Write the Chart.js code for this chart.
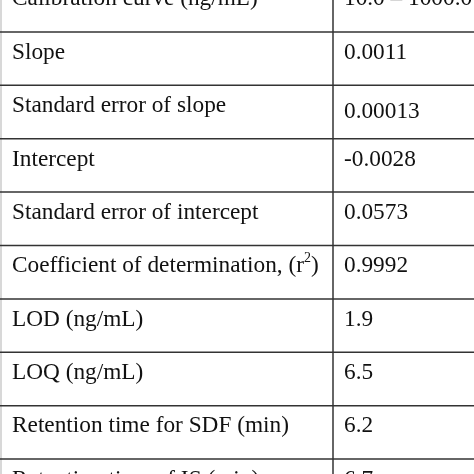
<!DOCTYPE html>
<html>
<head>
<meta charset="utf-8">
<script src="https://cdn.jsdelivr.net/npm/chart.js@4"></script>
<style>
  html, body { margin: 0; padding: 0; background: #fff; }
  #wrap { width: 474px; height: 474px; }
</style>
</head>
<body>
<div id="wrap"><canvas id="chart"></canvas></div>
<script>
const parameters = [
    'Calibration curve (ng/mL)',
    'Slope',
    'Standard error of slope',
    'Intercept',
    'Standard error of intercept',
    'Coefficient of determination, (r^2)',
    'LOD (ng/mL)',
    'LOQ (ng/mL)',
    'Retention time for SDF (min)',
    'Retention time of IS (min)'
];
const values = ['10.0 \u2013 1000.0', '0.0011', '0.00013', '-0.0028', '0.0573',
    '0.9992', '1.9', '6.5', '6.2', '6.7'];
// row index of each cell (centre of a table row)
const rows = parameters.map((p, i) => i);

const font = '23.3px "Liberation Serif", "Times New Roman", serif';

const tablePlugin = {
    id: 'table',
    afterDraw(chart) {
        const ctx = chart.ctx;
        const x = chart.scales.x, y = chart.scales.y;
        const colX = x.getPixelForValue(333);
        ctx.save();
        // left border
        ctx.fillStyle = '#d8d8d8';
        ctx.fillRect(0, 0, 2, 474);
        ctx.strokeStyle = '#333';
        ctx.lineWidth = 1.5;
        // row borders
        for (let i = 0; i < rows.length - 1; i++) {
            const py = y.getPixelForValue(rows[i] + 0.5);
            ctx.beginPath(); ctx.moveTo(0, py); ctx.lineTo(474, py); ctx.stroke();
        }
        ctx.beginPath(); ctx.moveTo(colX, 0); ctx.lineTo(colX, 474); ctx.stroke();

        ctx.fillStyle = '#111';
        ctx.font = font;
        ctx.textBaseline = 'middle';
        const lx = x.getPixelForValue(12), vx = x.getPixelForValue(344);
        rows.forEach((r, i) => {
            const py = y.getPixelForValue(r) - 6;
            const label = parameters[i];
            if (label.includes('^2')) {
                const [a, b] = label.split('^2');
                ctx.fillText(a, lx, py);
                let w = ctx.measureText(a).width;
                ctx.font = '14px "Liberation Serif", serif';
                ctx.fillText('2', lx + w, py - 8);
                const w2 = ctx.measureText('2').width;
                ctx.font = font;
                ctx.fillText(b, lx + w + w2, py);
            } else {
                ctx.fillText(label, lx, py);
            }
            const vy = i === 2 ? py + 6 : py;
            ctx.fillText(values[i], vx, vy);
        });
        ctx.restore();
    }
};

new Chart(document.getElementById('chart').getContext('2d'), {
    type: 'scatter',
    data: {
        datasets: [{
            data: rows.map(r => ({ x: 0, y: r })),
            pointRadius: 0
        }]
    },
    options: {
        responsive: true,
        maintainAspectRatio: false,
        animation: false,
        layout: { padding: 0 },
        plugins: { legend: { display: false }, tooltip: { enabled: false } },
        scales: {
            x: { type: 'linear', min: 0, max: 474, display: false },
            y: { type: 'linear', min: -0.0995, max: 8.781, reverse: true, display: false }
        }
    },
    plugins: [tablePlugin]
});
</script>
</body>
</html>
